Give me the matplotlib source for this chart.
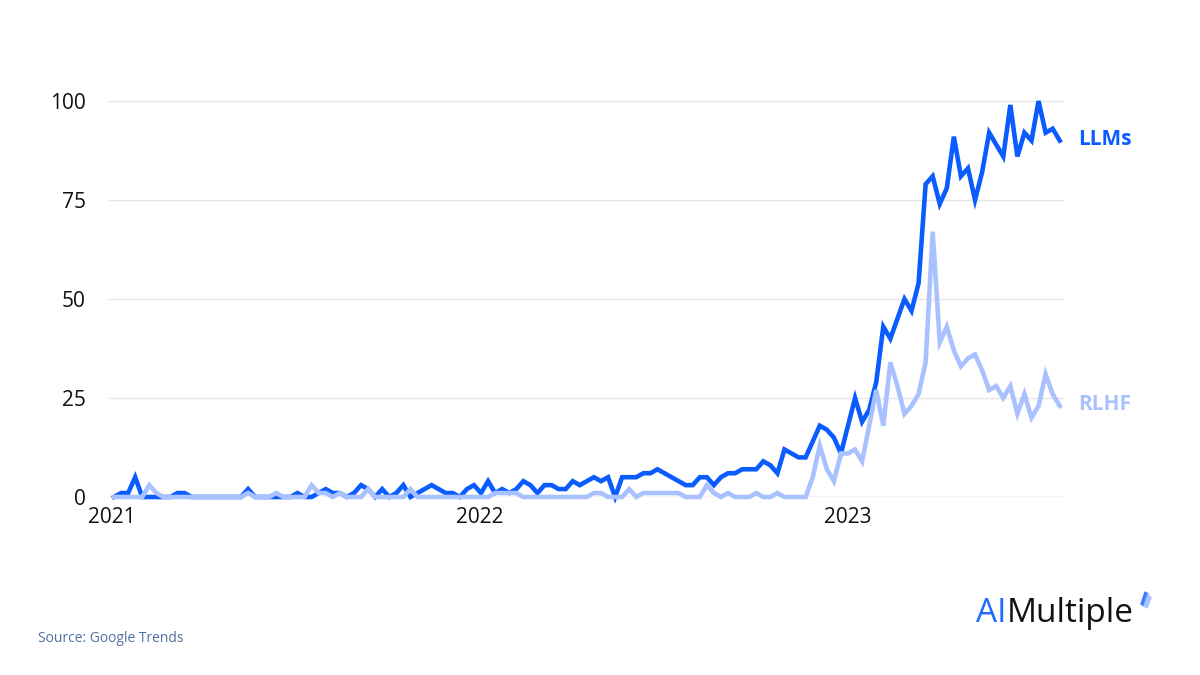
import matplotlib
matplotlib.use("Agg")
import matplotlib.pyplot as plt
import matplotlib.dates as mdates
import pandas as pd
import numpy as np
from matplotlib.patches import Polygon

plt.rcParams['font.family'] = ['Open Sans', 'DejaVu Sans']

# Weekly Google Trends interest (index 0-100)
start_date = "2021-01-03"
llms = [0, 1, 1, 5, 0, 0, 0, 0, 0, 1, 1, 0, 0, 0, 0, 0, 0, 0, 0, 2,
        0, 0, 0, 0, 0, 0, 1, 0, 0, 1, 2, 1, 1, 0, 1, 3, 2, 0, 2, 0,
        1, 3, 0, 1, 2, 3, 2, 1, 1, 0, 2, 3, 1, 4, 1, 2, 1, 2, 4, 3,
        1, 3, 3, 2, 2, 4, 3, 4, 5, 4, 5, 0, 5, 5, 5, 6, 6, 7, 6, 5,
        4, 3, 3, 5, 5, 3, 5, 6, 6, 7, 7, 7, 9, 8, 6, 12, 11, 10, 10, 14,
        18, 17, 15, 11, 18, 25, 19, 22, 29, 43, 40, 45, 50, 47, 54, 79, 81, 74, 78, 91,
        81, 83, 75, 82, 92, 89, 86, 99, 86, 92, 90, 100, 92, 93, 90]
rlhf = [0, 0, 0, 0, 0, 3, 1, 0, 0, 0, 0, 0, 0, 0, 0, 0, 0, 0, 0, 1,
        0, 0, 0, 1, 0, 0, 0, 0, 3, 1, 1, 0, 1, 0, 0, 0, 2, 0, 0, 0,
        0, 0, 2, 0, 0, 0, 0, 0, 0, 0, 0, 0, 0, 0, 1, 1, 1, 1, 0, 0,
        0, 0, 0, 0, 0, 0, 0, 0, 1, 1, 0, 0, 0, 2, 0, 1, 1, 1, 1, 1,
        1, 0, 0, 0, 3, 1, 0, 1, 0, 0, 0, 1, 0, 0, 1, 0, 0, 0, 0, 5,
        13, 7, 4, 11, 11, 12, 9, 18, 27, 18, 34, 28, 21, 23, 26, 34, 67, 39, 43, 37,
        33, 35, 36, 32, 27, 28, 25, 28, 21, 26, 20, 23, 31, 26, 23]
series_names = ["LLMs", "RLHF"]
y_ticks = [0, 25, 50, 75, 100]
x_tick_years = ["2021", "2022", "2023"]

dates = pd.date_range(start_date, periods=len(llms), freq="7D")

dark = "#0A5CFF"
light = "#A9C2FF"

fig = plt.figure(figsize=(12, 6.75), dpi=100)
W, H = 1200, 675
left, right, top, bottom = 108, 1065, 101, 497
ax = fig.add_axes([left / W, 1 - bottom / H, (right - left) / W, (bottom - top) / H])

ax.plot(dates, llms, color=dark, lw=3.3, solid_joinstyle="miter", zorder=3, clip_on=False)
ax.plot(dates, rlhf, color=light, lw=3.3, solid_joinstyle="miter", zorder=4, clip_on=False)

# x limits: 2021-01-01 at px 112, 2023-01-01 at px 848
d21 = mdates.date2num(pd.Timestamp("2021-01-01"))
d23 = mdates.date2num(pd.Timestamp("2023-01-01"))
ppd = (848 - 112) / (d23 - d21)
ax.set_xlim(d21 - (112 - left) / ppd, d23 + (right - 848) / ppd)
ax.set_ylim(0, 100)

ax.set_xticks([mdates.date2num(pd.Timestamp(f"{y}-01-01")) for y in x_tick_years])
ax.set_xticklabels(x_tick_years)
ax.set_yticks(y_ticks)
ax.set_yticklabels([str(v) for v in y_ticks])
ax.tick_params(axis="both", length=0, labelsize=15, colors="#111111")
ax.tick_params(axis="y", pad=16)
ax.tick_params(axis="x", pad=7)

for v in y_ticks:
    ax.axhline(v, color="#cfcfcf" if v == 0 else "#e6e6e6", lw=1.0, zorder=1)
for s in ax.spines.values():
    s.set_visible(False)

# series labels at the line ends
for name, vals, col in zip(series_names, [llms, rlhf], [dark, light]):
    ax.annotate(name, xy=(dates[-1], vals[-1]), xytext=(13, 1), textcoords="offset points",
                color=col, fontsize=15, fontweight="bold", va="center", ha="left",
                annotation_clip=False)

fig.text(38 / W, 1 - 639 / H, "Source: Google Trends", color="#51709F", fontsize=10, va="center", ha="left")

# logo
t1 = fig.text(976 / W, 1 - 613 / H, "AI", color="#1E6BFF", fontsize=24, va="center", ha="left")
fig.canvas.draw()
bb = t1.get_window_extent()
fig.text(bb.x1 / W, 1 - 613 / H, "Multiple", color="#111111", fontsize=24, va="center", ha="left")
fig.add_artist(Polygon([[1141 / W, 1 - 604 / H], [1145 / W, 1 - 592 / H], [1148 / W, 1 - 594 / H], [1144 / W, 1 - 606 / H]],
                       closed=True, transform=fig.transFigure, color="#3D7BFF"))
fig.add_artist(Polygon([[1144 / W, 1 - 606 / H], [1148 / W, 1 - 594 / H], [1151 / W, 1 - 598 / H], [1147 / W, 1 - 608 / H]],
                       closed=True, transform=fig.transFigure, color="#A9C2FF"))

fig.savefig("out.png", dpi=100, facecolor="white")
